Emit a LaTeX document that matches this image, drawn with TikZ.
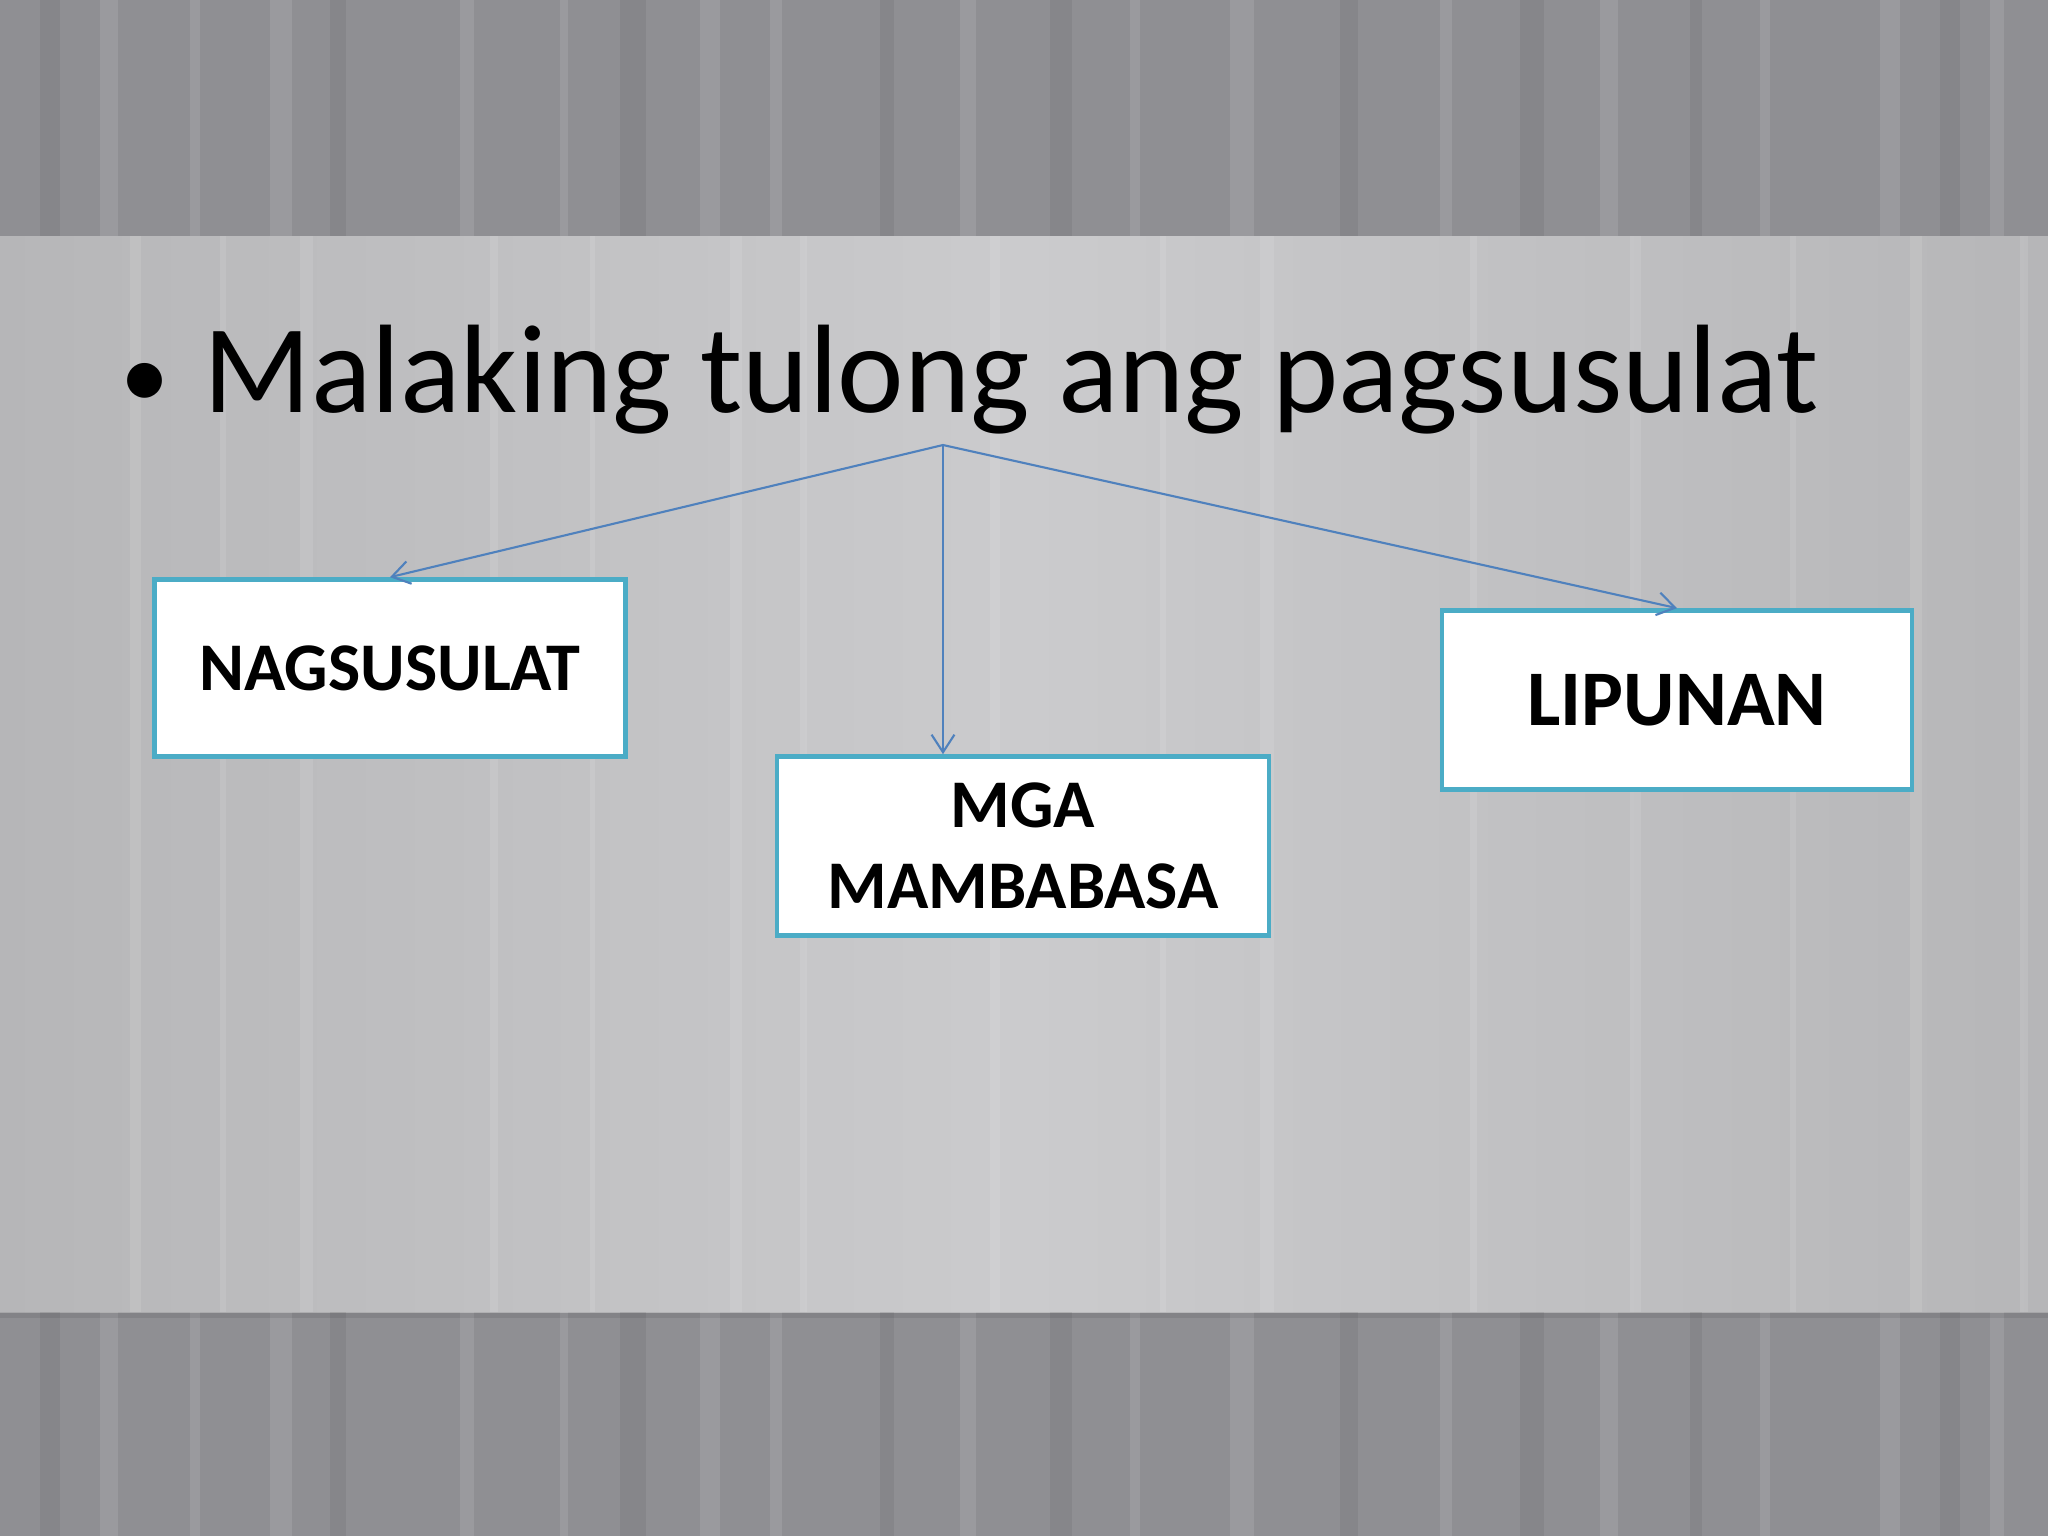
\documentclass[tikz,border=0pt]{standalone}
\usepackage{fontspec}
\setmainfont{Carlito}
\usetikzlibrary{arrows.meta}
\definecolor{banddark}{HTML}{8F8F93}
\definecolor{bandmid}{HTML}{CBCBCD}
\definecolor{bandedge}{HTML}{B6B6B8}
\definecolor{boxline}{HTML}{4BACC6}
\definecolor{arrowblue}{HTML}{4F81BD}
\tikzset{
  termbox/.style={draw=boxline, line width=1.3pt, fill=white, align=center,
    font=\bfseries\fontsize{19.4}{23}\selectfont, inner sep=0pt},
  link/.style={draw=arrowblue, line width=0.6pt,
    -{Straight Barb[length=5pt,width=6.5pt,line width=0.6pt]}},
  grain/.style={fill=white, opacity=0.10},
  graindark/.style={fill=black, opacity=0.06}
}
\begin{document}
\begin{tikzpicture}[x=0.01cm,y=-0.01cm]
\useasboundingbox (0,0) rectangle (2048,1536);
% background bands
\fill[banddark] (0,0) rectangle (2048,236);
\fill[banddark] (0,1312) rectangle (2048,1536);
\shade[left color=bandedge, right color=bandedge, middle color=bandmid] (0,236) rectangle (2048,1312);
% wood grain hints
\foreach \x/\w in {100/18,190/10,270/22,460/14,560/8,700/20,770/12,960/16,1130/10,1230/24,1440/12,1600/18,1760/10,1880/20,1990/14}{
  \fill[grain] (\x,0) rectangle ++(\w,236);
  \fill[grain] (\x,1312) rectangle ++(\w,224);
  \fill[grain] (\x+30,236) rectangle ++(\w*0.6,1076);
}
\foreach \x/\w in {40/20,330/16,620/26,880/14,1050/22,1340/18,1520/24,1690/12,1940/20}{
  \fill[graindark] (\x,0) rectangle ++(\w,236);
  \fill[graindark] (\x,1312) rectangle ++(\w,224);
}
\fill[black, opacity=0.08] (0,1312) rectangle (2048,1318);
% title
\node[anchor=base, font=\fontsize{28}{34}\selectfont] (bullet) at (145,408) {•};
\node[anchor=base west, inner sep=0pt, font=\fontsize{35.8}{43}\selectfont] (title) at (203,412) {Malaking tulong ang pagsusulat};
\coordinate (src) at (943,445);
% boxes
\node[termbox, minimum width=4.71cm, minimum height=1.77cm] (nag) at (390,668) {NAGSUSULAT};
\node[termbox, minimum width=4.92cm, minimum height=1.79cm] (mga) at (1023,846) {MGA\\MAMBABASA};
\node[termbox, minimum width=4.70cm, minimum height=1.79cm, font=\bfseries\fontsize{22.4}{26}\selectfont] (lip) at (1677,700) {LIPUNAN};
% connectors
\draw[link] (src) -- (nag.north);
\draw[link] (src) -- (src |- mga.north);
\draw[link] (src) -- (lip.north);
\end{tikzpicture}
\end{document}
